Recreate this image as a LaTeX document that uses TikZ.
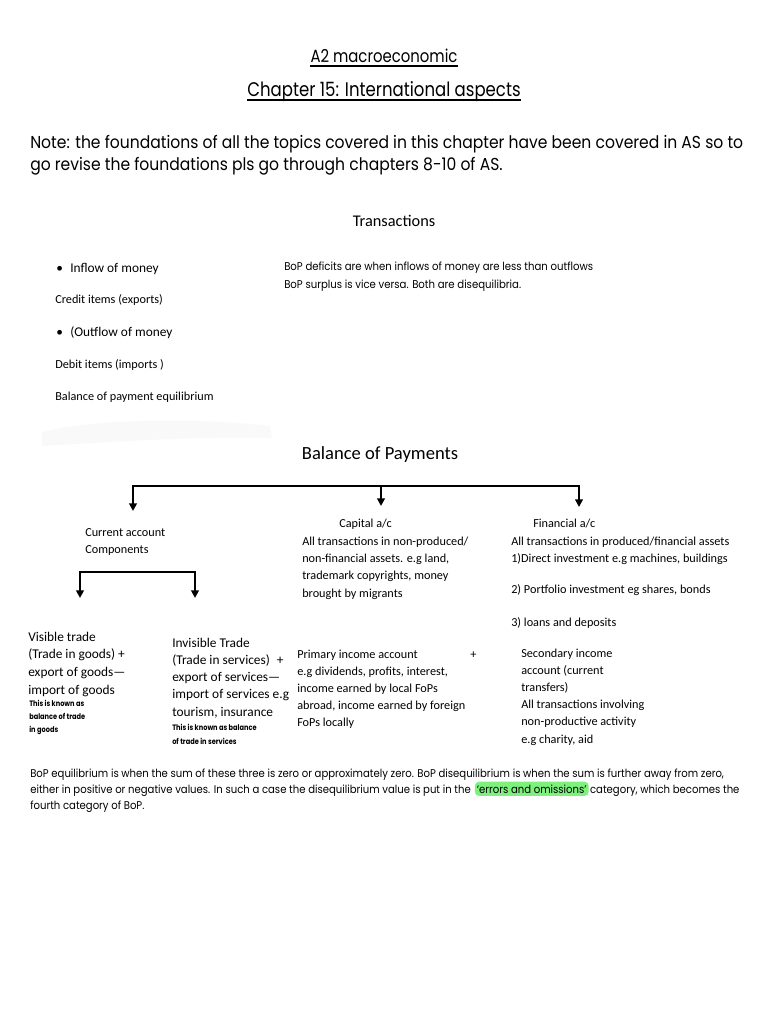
\documentclass[tikz,border=0pt]{standalone}
\usepackage{fontspec}
\setmainfont{Carlito}
\newfontfamily\futura[FakeStretch=0.84]{Poppins}
\newfontfamily\futurawide[FakeStretch=0.9]{Poppins}
\usetikzlibrary{arrows.meta,positioning}
\definecolor{hilite}{HTML}{7EF07E}
\tikzset{
  ttl/.style={font=\futura\fontsize{14}{16}\selectfont, anchor=base, inner sep=0pt},
  notetxt/.style={font=\futurawide\fontsize{12.3}{14}\selectfont, anchor=base west, inner sep=0pt},
  futmid/.style={font=\futurawide\fontsize{8.0}{9}\selectfont, anchor=base west, inner sep=0pt},
  futsmall/.style={font=\futurawide\fontsize{7.97}{9}\selectfont, anchor=base west, inner sep=0pt},
  futtiny/.style={font=\futura\bfseries\fontsize{5.6}{6}\selectfont, anchor=base west, inner sep=0pt},
  calib/.style={font=\fontsize{8.7}{10}\selectfont, anchor=base west, inner sep=0pt},
  calibmid/.style={font=\fontsize{9.5}{11}\selectfont, anchor=base west, inner sep=0pt},
  head/.style={font=\fontsize{11.6}{13}\selectfont, anchor=base, inner sep=0pt},
  bighead/.style={font=\fontsize{13.2}{15}\selectfont, anchor=base, inner sep=0pt},
  uline/.style={line width=0.9pt},
  branch/.style={line width=1.5pt, draw=black, line join=miter},
  tip/.style={-{Triangle[width=5.5pt,length=5.5pt]}},
  hl/.style={fill=hilite, rounded corners=3pt, inner xsep=1.5pt, inner ysep=2pt},
}
\begin{document}
\begin{tikzpicture}[x=0.025cm, y=-0.025cm]
\useasboundingbox (0,0) rectangle (768,1024);

% titles
\node[ttl, font=\futura\fontsize{12.6}{15}\selectfont] (ttlA) at (384,63) {A2 macroeconomic};
\node[ttl] (ttlB) at (384,97) {Chapter 15: International aspects};
\draw[uline] ([yshift=-2.2pt]ttlA.base west) -- ([yshift=-2.2pt]ttlA.base east);
\draw[uline] ([yshift=-2.2pt]ttlB.base west) -- ([yshift=-2.2pt]ttlB.base east);

\node[notetxt] (noteA) at (30,149) {Note: the foundations of all the topics covered in this chapter have been covered in AS so to};
\node[notetxt] (noteB) at (30,171) {go revise the foundations pls go through chapters 8-10 of AS.};

% transactions
\node[head] (trans) at (394,227) {Transactions};
\node[calibmid] (dotA) at (56,272) {•};
\node[calibmid] (inflow) at (70,272) {Inflow of money};
\node[calib] (credit) at (55,303) {Credit items (exports)};
\node[calibmid] (dotB) at (56,336) {•};
\node[calibmid] (outflow) at (70,336) {(Outflow of money};
\node[calib] (debit) at (55,368) {Debit items (imports )};
\node[calib] (bpeq) at (55,400) {Balance of payment equilibrium};
\node[futmid] (defA) at (284,271) {BoP deficits are when inflows of money are less than outflows};
\node[futmid] (defB) at (284,288) {BoP surplus is vice versa. Both are disequilibria.};
\fill[black!2.5] (42,432) .. controls (100,418) and (200,418) .. (270,426)
  -- (272,438) .. controls (200,436) and (110,442) .. (42,446) -- cycle;

% balance of payments tree
\node[bighead] (bop) at (380,459) {Balance of Payments};
\coordinate (barL) at (133,486);
\coordinate (barM) at (381,486);
\coordinate (barR) at (579,486);
\coordinate (tipL) at (133,511);
\coordinate (tipM) at (381,506);
\coordinate (tipR) at (579,507);
\draw[branch, {Triangle[width=5.5pt,length=5.5pt]}-{Triangle[width=5.5pt,length=5.5pt]}] (tipL) -- (barL) -- (barR) -- (tipR);
\draw[branch, tip] (barM) -- (tipM);

\node[calib] (cur) at (85,536) {Current account};
\node[calib] (comp) at (85,553) {Components};

\node[calib] (cap) at (339,527) {Capital a/c};
\foreach \txt [count=\i from 0] in {{All transactions in non-produced/}, {non-financial assets. e.g land,},
    {trademark copyrights, money}, {brought by migrants}}
  \node[calib] (cap\i) at (302,545+17.4*\i) {\txt};

\node[calib] (fin) at (533,527) {Financial a/c};
\node[calib] (fin0) at (511,545) {All transactions in produced/financial assets};
\node[calib] (fin1) at (511,562) {1)Direct investment e.g machines, buildings};
\node[calib] (fin2) at (511,593) {2) Portfolio investment eg shares, bonds};
\node[calib] (fin3) at (511,626) {3) loans and deposits};

% current account split
\coordinate (subL) at (80,572);
\coordinate (subR) at (195,572);
\coordinate (subtipL) at (80,598);
\coordinate (subtipR) at (195,598);
\draw[branch, {Triangle[width=5.5pt,length=5.5pt]}-{Triangle[width=5.5pt,length=5.5pt]}] (subtipL) -- (subL) -- (subR) -- (subtipR);

\foreach \txt [count=\i from 0] in {{Visible trade}, {(Trade in goods) +}, {export of goods—}, {import of goods}}
  \node[calibmid] (vis\i) at (28,641+17.7*\i) {\txt};
\foreach \txt [count=\i from 0] in {{This is known as}, {balance of trade}, {in goods}}
  \node[futtiny] (visnote\i) at (29,706+13*\i) {\txt};

\foreach \txt [count=\i from 0] in {{Invisible Trade}, {(Trade in services)\hspace{5pt}+}, {export of services—},
    {import of services e.g}, {tourism, insurance}}
  \node[calibmid] (invis\i) at (172,647+17.3*\i) {\txt};
\foreach \txt [count=\i from 0] in {{This is known as balance}, {of trade in services}}
  \node[futtiny] (invisnote\i) at (172,730+14*\i) {\txt};

\foreach \txt [count=\i from 0] in {{Primary income account}, {e.g dividends, profits, interest,},
    {income earned by local FoPs}, {abroad, income earned by foreign}, {FoPs locally}}
  \node[calib] (prim\i) at (297,658+17.2*\i) {\txt};
\node[calib] (plus) at (470,658) {+};

\foreach \txt [count=\i from 0] in {{Secondary income}, {account (current}, {transfers)},
    {All transactions involving}, {non-productive activity}, {e.g charity, aid}}
  \node[calib] (sec\i) at (521,657+17.2*\i) {\txt};

% closing paragraph
\node[futsmall] (endA) at (30,777) {BoP equilibrium is when the sum of these three is zero or approximately zero. BoP disequilibrium is when the sum is further away from zero,};
\node[futsmall] (endB) at (30,793) {either in positive or negative values. In such a case the disequilibrium value is put in the};
\node[futsmall, hl] (errs) at ([xshift=2.4pt]endB.base east) {‘errors and omissions’};
\node[futsmall] (endC) at ([xshift=0.6pt]errs.base east) {category, which becomes the};
\node[futsmall] (endD) at (30,809) {fourth category of BoP.};
\end{tikzpicture}
\end{document}
